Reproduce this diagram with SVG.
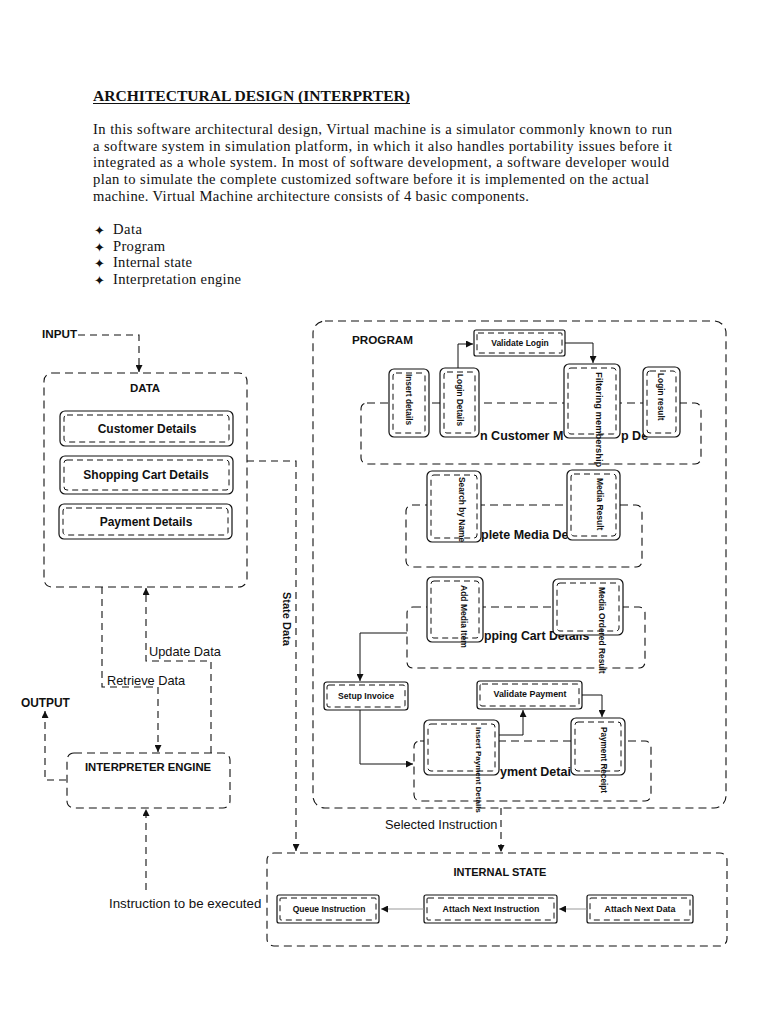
<svg xmlns="http://www.w3.org/2000/svg" width="768" height="1024" viewBox="0 0 768 1024">
<defs>
<style>
.doc{font-family:"Liberation Serif","Times New Roman",serif;font-size:14.6px;fill:#111}
.t{font-family:"Liberation Sans",Arial,sans-serif;fill:#111}
.b{font-weight:bold}
.bul{font-family:"DejaVu Sans",sans-serif;font-size:13px;fill:#111}
.cont{fill:none;stroke:#111;stroke-width:1.1;stroke-dasharray:8 5}
.outer{fill:#fff;stroke:#111;stroke-width:1.2}
.inner{fill:none;stroke:#111;stroke-width:1;stroke-dasharray:6 4}
.dc{fill:none;stroke:#111;stroke-width:1.1;stroke-dasharray:7 5}
.sc{fill:none;stroke:#111;stroke-width:1}
.gc{fill:none;stroke:#999;stroke-width:1}
</style>
<marker id="ah" viewBox="0 0 8 8" refX="8" refY="4" markerWidth="7" markerHeight="7" markerUnits="userSpaceOnUse" orient="auto">
<path d="M0,0 L8,4 L0,8 z" fill="#111"/>
</marker>
</defs>
<rect width="768" height="1024" fill="#fff"/>

<g id="document-text">
<text class="doc b" x="93" y="101" textLength="317" lengthAdjust="spacingAndGlyphs">ARCHITECTURAL DESIGN (INTERPRTER)</text>
<line x1="93" y1="103.5" x2="410" y2="103.5" stroke="#111" stroke-width="1"/>
<text class="doc" x="93" y="134" textLength="579">In this software architectural design, Virtual machine is a simulator commonly known to run</text>
<text class="doc" x="93" y="151" textLength="579">a software system in simulation platform, in which it also handles portability issues before it</text>
<text class="doc" x="93" y="167" textLength="576">integrated as a whole system. In most of software development, a software developer would</text>
<text class="doc" x="93" y="184" textLength="556">plan to simulate the complete customized software before it is implemented on the actual</text>
<text class="doc" x="93" y="201" textLength="436">machine. Virtual Machine architecture consists of 4 basic components.</text>
<text class="bul" x="94" y="235">✦</text>
<text class="bul" x="94" y="252">✦</text>
<text class="bul" x="94" y="268">✦</text>
<text class="bul" x="94" y="285">✦</text>
<text class="doc" x="113" y="234" textLength="29">Data</text>
<text class="doc" x="113" y="251" textLength="52">Program</text>
<text class="doc" x="113" y="267" textLength="79">Internal state</text>
<text class="doc" x="113" y="284" textLength="128">Interpretation engine</text>
</g>

<g id="program">
<rect class="cont" x="313" y="321" width="413" height="487" rx="12"/>
<text class="t b" x="352" y="344" font-size="11.7">PROGRAM</text>
</g>

<g id="customer-membership-details">
<rect class="cont" x="361" y="403" width="340" height="61" rx="6"/>
<text class="t b" x="480" y="440" font-size="12.5">n Customer M</text>
<text class="t b" x="621" y="440" font-size="12.5">p De</text>
</g>
<g id="complete-media-details">
<rect class="cont" x="406" y="505" width="236" height="62" rx="6"/>
<text class="t b" x="481" y="539" font-size="12.5">plete Media De</text>
</g>
<g id="shopping-cart-details">
<rect class="cont" x="407" y="607" width="238" height="61" rx="6"/>
<text class="t b" x="484" y="640" font-size="12.3">pping Cart Details</text>
</g>
<g id="payment-details">
<rect class="cont" x="414" y="741" width="237" height="60" rx="6"/>
<text class="t b" x="500" y="776" font-size="12.5">yment Detai</text>
</g>

<g id="data">
<rect class="cont" x="44" y="373" width="203" height="214" rx="8"/>
<text class="t b" x="145" y="392" font-size="11.5" text-anchor="middle">DATA</text>
</g>
<g id="customer-details">
<rect class="outer" x="60" y="411" width="173" height="35" rx="5"/>
<rect class="inner" x="64" y="415" width="165" height="27" rx="3"/>
<text class="t b" x="147" y="432.5" font-size="12" text-anchor="middle">Customer Details</text>
</g>
<g id="shopping-cart-details-data">
<rect class="outer" x="60" y="456" width="173" height="38" rx="5"/>
<rect class="inner" x="64" y="460" width="165" height="30" rx="3"/>
<text class="t b" x="146" y="479" font-size="12" text-anchor="middle">Shopping Cart Details</text>
</g>
<g id="payment-details-data">
<rect class="outer" x="59" y="504" width="173" height="35" rx="5"/>
<rect class="inner" x="63" y="508" width="165" height="27" rx="3"/>
<text class="t b" x="146" y="526" font-size="12" text-anchor="middle">Payment Details</text>
</g>

<g id="interpreter-engine">
<rect class="cont" x="67" y="753" width="163" height="55" rx="7"/>
<text class="t b" x="148" y="771" font-size="11.3" text-anchor="middle">INTERPRETER ENGINE</text>
</g>

<g id="internal-state">
<rect class="cont" x="267" y="853" width="460" height="93" rx="7"/>
<text class="t b" x="500" y="876" font-size="11" text-anchor="middle">INTERNAL STATE</text>
</g>

<g id="validate-login">
<rect class="outer" x="474" y="330" width="91" height="26" rx="2"/>
<rect class="inner" x="477" y="333" width="85" height="20" rx="1"/>
<text class="t b" x="520" y="346" font-size="8.5" text-anchor="middle">Validate Login</text>
</g>
<g id="insert-details">
<rect class="outer" x="389" y="369" width="40" height="68" rx="5"/>
<rect class="inner" x="393" y="373" width="32" height="60" rx="3"/>
</g>
<g id="login-details">
<rect class="outer" x="440" y="368" width="39" height="69" rx="5"/>
<rect class="inner" x="444" y="372" width="31" height="61" rx="3"/>
</g>
<g id="filtering-membership">
<rect class="outer" x="564" y="364" width="56" height="74" rx="5"/>
<rect class="inner" x="568" y="368" width="48" height="66" rx="3"/>
</g>
<g id="login-result">
<rect class="outer" x="643" y="367" width="37" height="70" rx="5"/>
<rect class="inner" x="647" y="371" width="29" height="62" rx="3"/>
</g>
<g id="search-by-name">
<rect class="outer" x="427" y="471" width="54" height="71" rx="5"/>
<rect class="inner" x="431" y="475" width="46" height="63" rx="3"/>
</g>
<g id="media-result">
<rect class="outer" x="567" y="470" width="53" height="70" rx="5"/>
<rect class="inner" x="571" y="474" width="45" height="62" rx="3"/>
</g>
<g id="add-media-item">
<rect class="outer" x="427" y="577" width="56" height="65" rx="5"/>
<rect class="inner" x="431" y="581" width="48" height="57" rx="3"/>
</g>
<g id="media-ordered-result">
<rect class="outer" x="553" y="579" width="70" height="56" rx="5"/>
<rect class="inner" x="557" y="583" width="62" height="48" rx="3"/>
</g>
<g id="setup-invoice">
<rect class="outer" x="324" y="682" width="84" height="28" rx="3"/>
<rect class="inner" x="327" y="685" width="78" height="22" rx="2"/>
<text class="t b" x="366" y="699" font-size="8.6" text-anchor="middle">Setup Invoice</text>
</g>
<g id="validate-payment">
<rect class="outer" x="477" y="681" width="105" height="28" rx="3"/>
<rect class="inner" x="480" y="684" width="99" height="22" rx="2"/>
<text class="t b" x="530" y="697" font-size="8.9" text-anchor="middle">Validate Payment</text>
</g>
<g id="insert-payment-details">
<rect class="outer" x="424" y="720" width="75" height="55" rx="5"/>
<rect class="inner" x="428" y="724" width="67" height="47" rx="3"/>
</g>
<g id="payment-receipt">
<rect class="outer" x="571" y="718" width="54" height="57" rx="5"/>
<rect class="inner" x="575" y="722" width="46" height="49" rx="3"/>
</g>
<g id="queue-instruction">
<rect class="outer" x="277" y="895" width="102" height="28" rx="2"/>
<rect class="inner" x="280" y="898" width="96" height="22" rx="1"/>
<text class="t b" x="329" y="912" font-size="8.5" text-anchor="middle">Queue Instruction</text>
</g>
<g id="attach-next-instruction">
<rect class="outer" x="424" y="895" width="133" height="28" rx="2"/>
<rect class="inner" x="427" y="898" width="127" height="22" rx="1"/>
<text class="t b" x="491" y="912" font-size="8.8" text-anchor="middle">Attach Next Instruction</text>
</g>
<g id="attach-next-data">
<rect class="outer" x="587" y="895" width="106" height="28" rx="2"/>
<rect class="inner" x="590" y="898" width="100" height="22" rx="1"/>
<text class="t b" x="640" y="912" font-size="8.9" text-anchor="middle">Attach Next Data</text>
</g>

<g id="vertical-labels" class="t b" dominant-baseline="central">
<text transform="translate(409,374) rotate(90)" font-size="8.3">Insert details</text>
<text transform="translate(460,374) rotate(90)" font-size="8.3">Login Details</text>
<text transform="translate(599,372) rotate(90)" font-size="9.4">Filtering membership</text>
<text transform="translate(661,373) rotate(90)" font-size="8.3">Login result</text>
<text transform="translate(462,477) rotate(90)" font-size="8.4">Search by Name</text>
<text transform="translate(600,478) rotate(90)" font-size="8.5">Media Result</text>
<text transform="translate(464,585) rotate(90)" font-size="8.5">Add Media Item</text>
<text transform="translate(602,587) rotate(90)" font-size="8.4">Media Ordered Result</text>
<text transform="translate(478,727) rotate(90)" font-size="8">Insert Payment Details</text>
<text transform="translate(603,727) rotate(90)" font-size="8.2">Payment Receipt</text>
</g>

<g id="connectors">
<path class="dc" d="M78,335 H139 V372" marker-end="url(#ah)"/>
<path class="dc" d="M247,461 H296 V851" marker-end="url(#ah)"/>
<path class="dc" d="M102,587 V687 H158 V752" marker-end="url(#ah)"/>
<path class="dc" d="M211,753 V661 H146 V588" marker-end="url(#ah)"/>
<path class="dc" d="M66,780 H45 V711" marker-end="url(#ah)"/>
<path class="dc" d="M146,890 V809" marker-end="url(#ah)"/>
<path class="dc" d="M501,808 V852" marker-end="url(#ah)"/>
<path class="sc" d="M458,368 V344 H473" marker-end="url(#ah)"/>
<path class="sc" d="M565,343 H593 V363" marker-end="url(#ah)"/>
<path class="sc" d="M407,633 H360 V681" marker-end="url(#ah)"/>
<path class="sc" d="M360,710 V764 H413" marker-end="url(#ah)"/>
<path class="sc" d="M499,735 H523 V710" marker-end="url(#ah)"/>
<path class="sc" d="M582,695 H602 V717" marker-end="url(#ah)"/>
<path class="gc" d="M587,909 H559" marker-end="url(#ah)"/>
<path class="gc" d="M424,909 H381" marker-end="url(#ah)"/>
<text class="t b" x="42" y="338" font-size="11.7">INPUT</text>
<text class="t b" x="21" y="707" font-size="11.9">OUTPUT</text>
<text class="t" x="149" y="656" font-size="12.8">Update Data</text>
<text class="t" x="107" y="685" font-size="12.8">Retrieve Data</text>
<text class="t" x="385" y="829" font-size="12.8">Selected Instruction</text>
<text class="t" x="109" y="908" font-size="13.3">Instruction to be executed</text>
<text class="t b" transform="translate(287,592) rotate(90)" font-size="11" dominant-baseline="central">State Data</text>
</g>
</svg>
